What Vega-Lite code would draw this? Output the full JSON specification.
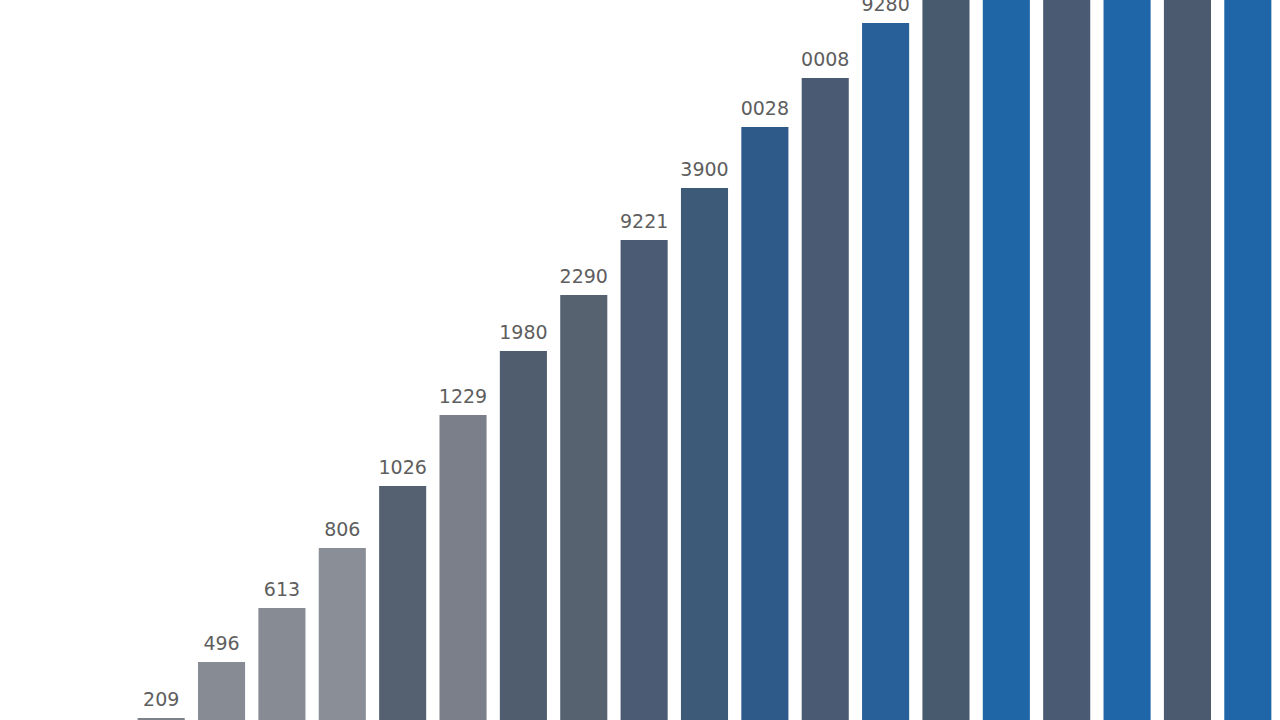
{
  "$schema": "https://vega.github.io/schema/vega-lite/v6.json",
  "autosize": "none",
  "width": 1147,
  "height": 720,
  "padding": {"left": 131, "right": 2, "top": 0, "bottom": 0},
  "background": "white",
  "config": {"view": {"stroke": null}},
  "data": {
    "values": [
      {"bar": "1", "value": 2, "label": "209"},
      {"bar": "2", "value": 58, "label": "496"},
      {"bar": "3", "value": 112, "label": "613"},
      {"bar": "4", "value": 172, "label": "806"},
      {"bar": "5", "value": 234, "label": "1026"},
      {"bar": "6", "value": 305, "label": "1229"},
      {"bar": "7", "value": 369, "label": "1980"},
      {"bar": "8", "value": 425, "label": "2290"},
      {"bar": "9", "value": 480, "label": "9221"},
      {"bar": "10", "value": 532, "label": "3900"},
      {"bar": "11", "value": 593, "label": "0028"},
      {"bar": "12", "value": 642, "label": "0008"},
      {"bar": "13", "value": 697, "label": "9280"},
      {"bar": "14", "value": 760, "label": ""},
      {"bar": "15", "value": 790, "label": ""},
      {"bar": "16", "value": 820, "label": ""},
      {"bar": "17", "value": 850, "label": ""},
      {"bar": "18", "value": 880, "label": ""},
      {"bar": "19", "value": 910, "label": ""}
    ]
  },
  "encoding": {
    "x": {
      "field": "bar",
      "type": "ordinal",
      "sort": null,
      "scale": {"paddingInner": 0.22, "paddingOuter": 0.11},
      "axis": null
    },
    "y": {
      "field": "value",
      "type": "quantitative",
      "scale": {"domain": [0, 720], "nice": false},
      "axis": null
    }
  },
  "layer": [
    {
      "mark": {"type": "bar", "clip": true},
      "encoding": {
        "color": {
          "field": "bar",
          "type": "ordinal",
          "sort": null,
          "legend": null,
          "scale": {
            "domain": ["1","2","3","4","5","6","7","8","9","10","11","12","13","14","15","16","17","18","19"],
            "range": ["#7d8189","#878b93","#878b93","#8a8e96","#556070","#7b7f89","#505d6e","#566270","#4b5b74","#3d5a78","#2d5a88","#4a5a72","#28609a","#485a6e","#1f66a6","#4a5a72","#1e66a8","#4b5a6e","#1e66a8"]
          }
        }
      }
    },
    {
      "mark": {
        "type": "text",
        "dy": -12,
        "baseline": "alphabetic",
        "align": "center",
        "font": "DejaVu Sans",
        "fontSize": 19,
        "fontWeight": "normal",
        "color": "#5e5e5e"
      },
      "encoding": {"text": {"field": "label"}}
    }
  ]
}
